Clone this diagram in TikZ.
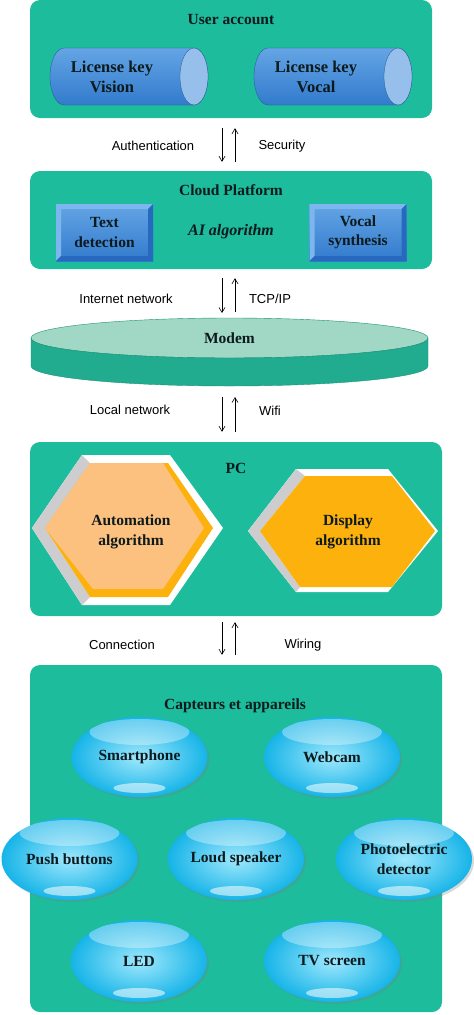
\documentclass[tikz,border=0pt]{standalone}
\usepackage{fontspec}
\setmainfont{Liberation Serif}
\setsansfont{Liberation Sans}
\usetikzlibrary{shapes.geometric,arrows.meta,shadows}

\definecolor{panelgreen}{RGB}{29,188,156}
\definecolor{keylight}{RGB}{100,165,228}
\definecolor{keyblue}{RGB}{50,122,205}
\definecolor{keyend}{RGB}{150,192,235}
\definecolor{bevlight}{RGB}{125,182,238}
\definecolor{bevdark}{RGB}{38,105,190}
\definecolor{modemtop}{RGB}{160,216,197}
\definecolor{modemside}{RGB}{34,172,143}
\definecolor{hexlight}{RGB}{252,193,126}
\definecolor{hexdark}{RGB}{253,177,12}
\definecolor{hexgray}{RGB}{205,205,208}
\definecolor{devout}{RGB}{22,180,232}
\definecolor{devin}{RGB}{160,232,252}
\definecolor{inkdark}{RGB}{12,26,30}

\begin{document}
\begin{tikzpicture}[x=1pt, y=1pt,
    panel/.style={fill=panelgreen, rounded corners=10pt, inner sep=0pt},
    title/.style={font=\fontsize{15.5}{18}\selectfont\bfseries, text=inkdark},
    item/.style={font=\fontsize{15.5}{19.5}\selectfont\bfseries, text=inkdark, align=center},
    lbl/.style={font=\sffamily\fontsize{13}{15}\selectfont},
    flow/.style={-{Straight Barb[length=5pt,width=6pt]}, line width=0.6pt},
    keybody/.style={top color=keylight, bottom color=keyblue, draw=keyblue!70!black, line width=0.3pt},
    bevelbox/.style={item, minimum width=97pt, minimum height=57pt, inner sep=0pt,
      top color=keylight, bottom color=keyblue,
      path picture={
        \fill[bevlight] (path picture bounding box.north west) -- (path picture bounding box.north east)
          -- ++(-5,-5) -| ([shift={(5,5)}]path picture bounding box.south west)
          -- (path picture bounding box.south west) -- cycle;
        \fill[bevdark] (path picture bounding box.south east) -- (path picture bounding box.north east)
          -- ++(-5,-5) |- ([shift={(5,5)}]path picture bounding box.south west)
          -- (path picture bounding box.south west) -- cycle;
      }},
    device/.style={ellipse, item, minimum width=136pt, minimum height=80pt, inner sep=0pt,
      inner color=devin, outer color=devout,
      drop shadow={shadow xshift=2pt, shadow yshift=-2pt, opacity=0.3},
      path picture={
        \fill[white, opacity=0.35] ([yshift=-15pt]path picture bounding box.north) ellipse [x radius=50pt, y radius=13pt];
        \fill[white, opacity=0.55] ([yshift=9pt]path picture bounding box.south) ellipse [x radius=26pt, y radius=5pt];
      }}
  ]

    \useasboundingbox (0,0) rectangle (474,-1015);

    % User account
    \node[panel, minimum width=402pt, minimum height=118pt] (user) at (231,-59) {};
    \node[title] (usertitle) at (231,-20) {User account};

    % License keys
    \shadedraw[keybody] (64,-48) -- (194,-48) arc[start angle=90, end angle=-90, x radius=14pt, y radius=28.5pt]
      -- (64,-105) arc[start angle=270, end angle=90, x radius=14pt, y radius=28.5pt] -- cycle;
    \filldraw[fill=keyend, draw=keyblue!70!black, line width=0.3pt] (194,-76.5) ellipse [x radius=14pt, y radius=28.5pt];
    \node[item, font=\fontsize{16.5}{20}\selectfont\bfseries] (vision) at (112,-76.5) {License key\\Vision};

    \shadedraw[keybody] (268,-48) -- (398,-48) arc[start angle=90, end angle=-90, x radius=14pt, y radius=28.5pt]
      -- (268,-105) arc[start angle=270, end angle=90, x radius=14pt, y radius=28.5pt] -- cycle;
    \filldraw[fill=keyend, draw=keyblue!70!black, line width=0.3pt] (398,-76.5) ellipse [x radius=14pt, y radius=28.5pt];
    \node[item, font=\fontsize{16.5}{20}\selectfont\bfseries] (vocal) at (316,-76.5) {License key\\Vocal};

    % Cloud platform
    \node[panel, minimum width=402pt, minimum height=98pt] (cloud) at (231,-220) {};
    \node[title] (cloudtitle) at (231,-190) {Cloud Platform};
    \node[bevelbox] (textdet) at (104.5,-232.5) {Text\\detection};
    \node[bevelbox] (vocsyn) at (358,-232.5) {Vocal\\synthesis};
    \node[item, font=\fontsize{16}{18}\selectfont\bfseries\itshape] (ai) at (231,-232) {AI algorithm};

    % Modem
    \node[ellipse, minimum width=397pt, minimum height=40pt, inner sep=0pt, outer sep=0pt,
      fill=modemtop, draw=modemside!85!black, line width=0.4pt, title] (modem) at (229.5,-338) {Modem};
    \filldraw[fill=modemside, draw=modemside!85!black, line width=0.4pt] (modem.west) -- ++(0,-28)
      arc[start angle=180, end angle=360, x radius=198.5pt, y radius=20pt] -- (modem.east)
      arc[start angle=0, end angle=-180, x radius=198.5pt, y radius=20pt] -- cycle;
    \coordinate (modembase) at ([yshift=-28pt]modem.south);

    % PC
    \node[panel, minimum width=412pt, minimum height=174pt] (pc) at (236,-529) {};
    \node[title] (pctitle) at (236,-468) {PC};

    \fill[white] (32,-528) -- (82,-455) -- (170,-455) -- (223,-528) -- (170,-605) -- (82,-605) -- cycle;
    \fill[hexgray] (32,-528) -- (82,-455) -- (90,-463) -- (45,-528) -- (90,-597) -- (82,-605) -- cycle;
    \fill[hexdark] (45,-528) -- (90,-463) -- (168,-463) -- (213,-528) -- (168,-597) -- (90,-597) -- cycle;
    \fill[hexlight] (45,-528) -- (90,-463) -- (163,-463) -- (204,-528) -- (163,-589) -- (93,-589) -- cycle;
    \node[item] (auto) at (131,-532) {Automation\\algorithm};

    \fill[white] (248,-531) -- (296,-469) -- (388,-469) -- (438,-531) -- (388,-592) -- (296,-592) -- cycle;
    \fill[hexgray] (248,-531) -- (296,-469) -- (305,-476) -- (260,-531) -- (300,-587) -- (296,-592) -- cycle;
    \fill[hexdark] (260,-531) -- (305,-476) -- (392,-476) -- (435,-531) -- (392,-587) -- (300,-587) -- cycle;
    \node[item] (disp) at (348,-532) {Display\\algorithm};

    % Capteurs et appareils
    \node[panel, minimum width=412pt, minimum height=347pt] (dev) at (236,-838.5) {};
    \node[title] (devtitle) at (235,-706) {Capteurs et appareils};

    \node[device] (phone) at (139.5,-757) {Smartphone};
    \node[device] (webcam) at (332,-757) {Webcam};
    \node[device, minimum height=82pt] (push) at (69.5,-859) {Push buttons};
    \node[device, minimum height=82pt] (speaker) at (236,-859) {Loud speaker};
    \node[device, minimum height=82pt] (photo) at (404,-859) {Photoelectric\\detector};
    \node[device, minimum height=82pt] (led) at (139,-961) {LED};
    \node[device, minimum height=82pt] (tv) at (332,-961) {TV screen};

    % Links
    \coordinate (dn) at (222,0);
    \coordinate (up) at (235,0);

    \draw[flow, shorten <=10pt, shorten >=9pt] (user.south -| dn) -- (cloud.north -| dn);
    \draw[flow, shorten <=9pt, shorten >=10pt] (cloud.north -| up) -- (user.south -| up);
    \node[lbl] (auth) at (153,-146) {Authentication};
    \node[lbl] (secu) at (282,-146) {Security};

    \draw[flow, shorten <=9pt, shorten >=5pt] (cloud.south -| dn) -- (modem.north -| dn);
    \draw[flow, shorten <=6pt, shorten >=9pt] (modem.north -| up) -- (cloud.south -| up);
    \node[lbl] (inet) at (126,-299) {Internet network};
    \node[lbl] (tcp) at (270,-299) {TCP/IP};

    \draw[flow, shorten <=11pt, shorten >=10pt] (modembase -| dn) -- (pc.north -| dn);
    \draw[flow, shorten <=10pt, shorten >=11pt] (pc.north -| up) -- (modembase -| up);
    \node[lbl] (local) at (130,-410) {Local network};
    \node[lbl] (wifi) at (270,-411) {Wifi};

    \draw[flow, shorten <=6pt, shorten >=10pt] (pc.south -| dn) -- (dev.north -| dn);
    \draw[flow, shorten <=10pt, shorten >=6pt] (dev.north -| up) -- (pc.south -| up);
    \node[lbl] (conn) at (122,-645) {Connection};
    \node[lbl] (wire) at (303,-645) {Wiring};

\end{tikzpicture}
\end{document}
